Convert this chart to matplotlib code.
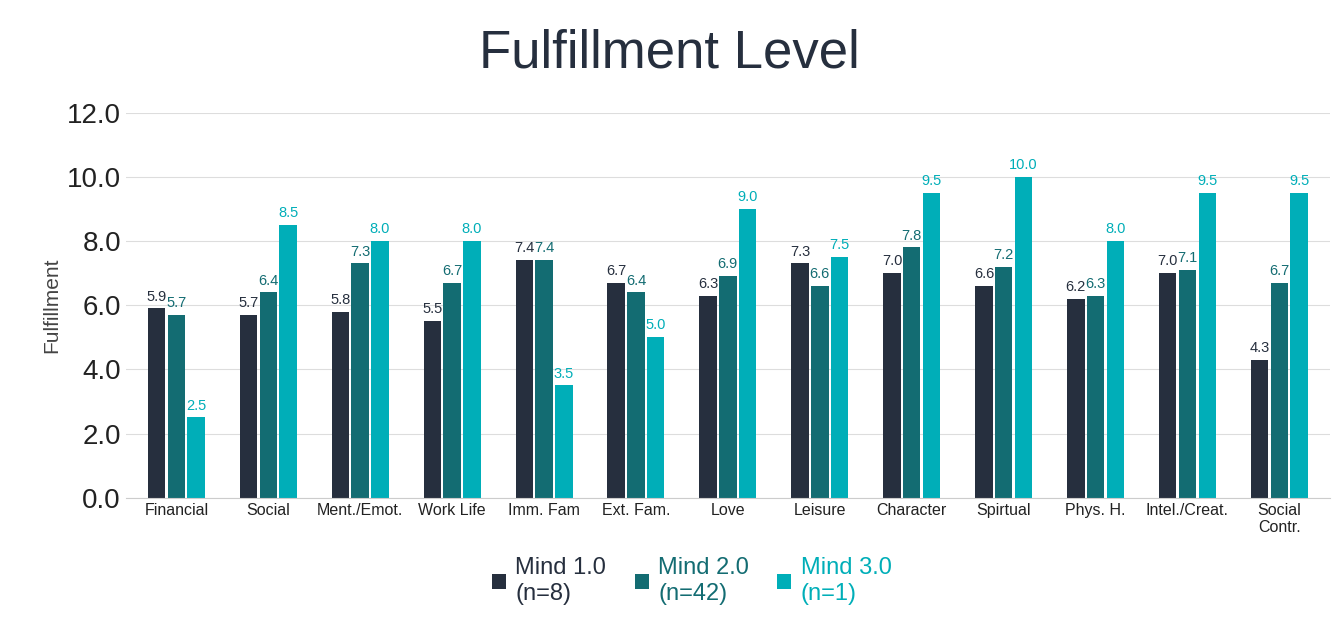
import numpy as np
import matplotlib
matplotlib.use("Agg")
from matplotlib import pyplot as plt

plt.rcParams['font.family'] = ['Liberation Sans', 'DejaVu Sans']

categories = ["Financial", "Social", "Ment./Emot.", "Work Life", "Imm. Fam", "Ext. Fam.", "Love",
              "Leisure", "Character", "Spirtual", "Phys. H.", "Intel./Creat.", "Social\nContr."]
mind1 = [5.9, 5.7, 5.8, 5.5, 7.4, 6.7, 6.3, 7.3, 7.0, 6.6, 6.2, 7.0, 4.3]
mind2 = [5.7, 6.4, 7.3, 6.7, 7.4, 6.4, 6.9, 6.6, 7.8, 7.2, 6.3, 7.1, 6.7]
mind3 = [2.5, 8.5, 8.0, 8.0, 3.5, 5.0, 9.0, 7.5, 9.5, 10.0, 8.0, 9.5, 9.5]
series_names = ["Mind 1.0\n(n=8)", "Mind 2.0\n(n=42)", "Mind 3.0\n(n=1)"]
colors = ["#262f3e", "#136c72", "#00aeb8"]

fig = plt.figure(figsize=(13.38, 6.26), dpi=100)
ax = fig.add_axes([0.094, 0.205, 0.9, 0.615])

x = np.arange(len(categories))
w = 0.19
for i, (vals, name, c) in enumerate(zip([mind1, mind2, mind3], series_names, colors)):
    pos = x + (i - 1) * (w + 0.025)
    ax.bar(pos, vals, w, color=c, label=name)
    for p, v in zip(pos, vals):
        ax.text(p, v + 0.15, f"{v:.1f}", ha="center", va="bottom", fontsize=10.5, color=c)

ax.set_xlim(-0.55, len(categories) - 0.45)
ax.set_ylim(0, 12)
ax.set_yticks(np.arange(0, 12.1, 2))
ax.set_yticklabels([f"{t:.1f}" for t in np.arange(0, 12.1, 2)], fontsize=20, color="#222222")
ax.set_xticks(x)
ax.set_xticklabels(categories, fontsize=11.5, color="#222222")
ax.tick_params(length=0)
ax.yaxis.grid(True, color="#dddddd", linewidth=0.8)
ax.set_axisbelow(True)
for s in ["top", "right", "left"]:
    ax.spines[s].set_visible(False)
ax.spines["bottom"].set_color("#cccccc")
ax.set_ylabel("Fulfillment", fontsize=15, color="#444444")

fig.suptitle("Fulfillment Level", fontsize=38, color="#262f3e", y=0.955)
leg = ax.legend(loc="upper center", bbox_to_anchor=(0.47, -0.1), ncol=3, frameon=False,
                fontsize=17, handlelength=0.6, handleheight=0.6, columnspacing=1.2, handletextpad=0.4)
for t, c in zip(leg.get_texts(), colors):
    t.set_color(c)
fig.savefig("out.png", dpi=100)
